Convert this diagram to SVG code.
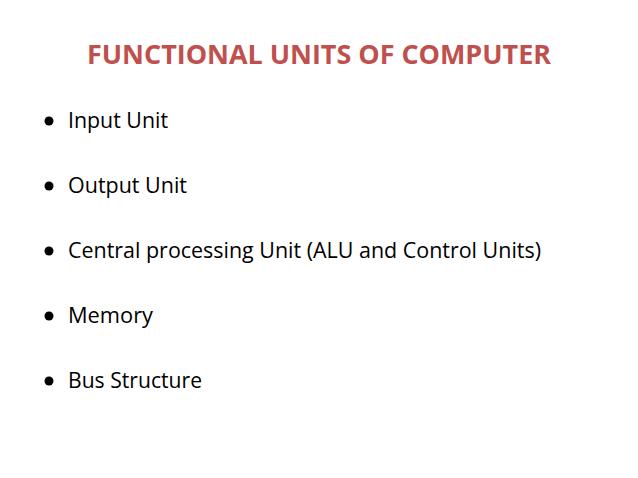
<svg xmlns="http://www.w3.org/2000/svg" width="638" height="478" viewBox="0 0 638 478">
<style>
.t{font-family:"Open Sans","Liberation Sans",sans-serif;font-size:27px;font-weight:bold;fill:#C0504D}
.b{font-family:"Open Sans","Liberation Sans",sans-serif;font-size:21px;fill:#000}
</style>
<rect width="638" height="478" fill="#fff"/>
<g id="title"><text class="t" x="87" y="64" textLength="464" lengthAdjust="spacingAndGlyphs">FUNCTIONAL UNITS OF COMPUTER</text></g>
<g id="b1"><circle cx="49" cy="121" r="4.5"/><text class="b" x="68" y="128" textLength="100" lengthAdjust="spacingAndGlyphs">Input Unit</text></g>
<g id="b2"><circle cx="49" cy="186" r="4.5"/><text class="b" x="68" y="193" textLength="119" lengthAdjust="spacingAndGlyphs">Output Unit</text></g>
<g id="b3"><circle cx="49" cy="251" r="4.5"/><text class="b" x="68" y="258" textLength="473" lengthAdjust="spacingAndGlyphs">Central processing Unit (ALU and Control Units)</text></g>
<g id="b4"><circle cx="49" cy="316" r="4.5"/><text class="b" x="68" y="323" textLength="85" lengthAdjust="spacingAndGlyphs">Memory</text></g>
<g id="b5"><circle cx="49" cy="381" r="4.5"/><text class="b" x="68" y="388" textLength="134" lengthAdjust="spacingAndGlyphs">Bus Structure</text></g>
</svg>
